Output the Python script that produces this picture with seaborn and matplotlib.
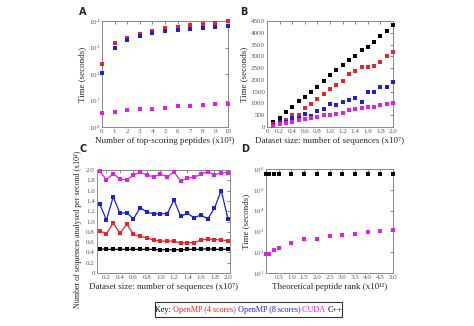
import numpy as np
import pandas as pd
import matplotlib
matplotlib.use("Agg")
import matplotlib.pyplot as plt
import seaborn as sns

# ---------------- data ----------------
# Panel A: time vs number of top-scoring peptides (log scale)
a_x = [0, 1, 2, 3, 4, 5, 6, 7, 8, 9, 10]
a_omp4 = [229, 1420, 2340, 3300, 4200, 5300, 6100, 7050, 7900, 8650, 9700]
a_omp8 = [110, 1000, 1900, 2700, 3400, 4200, 4700, 5100, 5600, 5900, 6600]
a_cuda = [3.5, 3.7, 4.2, 4.6, 4.8, 5.1, 6.1, 6.4, 6.8, 7.2, 7.6]

# Panel B: time vs dataset size
b_x = [0.1, 0.2, 0.3, 0.4, 0.5, 0.6, 0.7, 0.8, 0.9, 1.0,
       1.1, 1.2, 1.3, 1.4, 1.5, 1.6, 1.7, 1.8, 1.9, 2.0]
b_cpp = [200, 400, 640, 857, 1086, 1286, 1500, 1714, 1971, 2200,
         2430, 2643, 2857, 3014, 3257, 3414, 3600, 3843, 4071, 4314]
b_omp4 = [140, 210, 300, 500, 510, 800, 990, 1170, 1410, 1600,
          1790, 1960, 2230, 2390, 2540, 2540, 2590, 2770, 3000, 3190]
b_omp8 = [90, 200, 230, 370, 370, 570, 460, 700, 770, 960,
          940, 1060, 1140, 1230, 1070, 1470, 1490, 1710, 1690, 1930]
b_cuda = [40, 110, 170, 230, 290, 340, 390, 430, 490, 530,
          570, 610, 710, 760, 800, 830, 860, 940, 990, 1030]

# Panel C: throughput vs dataset size
c_x = b_x
c_cuda = [1.98, 1.81, 1.93, 1.82, 1.81, 1.90, 1.96, 1.90, 1.87, 1.92,
          1.87, 1.96, 1.79, 1.84, 1.86, 1.92, 1.97, 1.91, 1.94, 1.95]
c_omp8 = [1.34, 1.03, 1.48, 1.16, 1.17, 1.05, 1.27, 1.18, 1.15, 1.15,
          1.15, 1.42, 1.10, 1.16, 1.07, 1.13, 1.05, 1.26, 1.60, 1.05]
c_omp4 = [0.82, 0.76, 0.97, 0.77, 0.95, 0.75, 0.71, 0.68, 0.64, 0.62,
          0.62, 0.62, 0.58, 0.59, 0.59, 0.64, 0.66, 0.65, 0.64, 0.63]
c_cpp = [0.47, 0.46, 0.46, 0.46, 0.46, 0.46, 0.46, 0.46, 0.46, 0.45,
         0.45, 0.45, 0.45, 0.46, 0.46, 0.46, 0.47, 0.46, 0.46, 0.46]

# Panel D: time vs theoretical peptide rank (log scale)
d_x = [0.01, 0.1, 0.3, 0.5, 1.0, 1.5, 2.0, 2.5, 3.0, 3.5, 4.0, 4.5, 5.0]
d_cpp = [590000] * 13
d_cuda = [83, 85, 125, 168, 262, 410, 455, 570, 640, 770, 930, 1040, 1150]

RED, BLUE, MAG, BLK = "#e8232a", "#1f1fd6", "#e020e0", "#000000"

# ---------------- style ----------------
sns.set_style("white")
plt.rcParams["font.family"] = ["Liberation Serif", "DejaVu Serif"]
plt.rcParams["mathtext.fontset"] = "stix"
plt.rcParams.update({
    "axes.edgecolor": "#888888",
    "axes.linewidth": 0.7,
    "xtick.color": "#555555",
    "ytick.color": "#555555",
    "xtick.direction": "in",
    "ytick.direction": "in",
    "xtick.major.size": 2,
    "ytick.major.size": 2,
    "xtick.major.width": 0.5,
    "ytick.major.width": 0.5,
    "xtick.labelsize": 5,
    "ytick.labelsize": 5,
    "xtick.major.pad": 1.5,
    "ytick.major.pad": 1.5,
})

W, H = 474, 326
fig = plt.figure(figsize=(W / 100, H / 100), dpi=100)


def add_ax(x0, y0, x1, y1):
    return fig.add_axes([x0 / W, 1 - y1 / H, (x1 - x0) / W, (y1 - y0) / H])


def style(ax):
    ax.tick_params(top=True, right=True, which="both")
    ax.minorticks_off()
    for s in ax.spines.values():
        s.set_visible(True)


MS = 11

# ---------- A ----------
axA = add_ax(102, 21, 228, 127)
for y, c in [(a_omp4, RED), (a_omp8, BLUE), (a_cuda, MAG)]:
    sns.scatterplot(x=a_x, y=y, ax=axA, color=c, marker="s", s=MS,
                    linewidth=0, clip_on=False, zorder=3)
axA.set_yscale("log")
axA.set_ylim(1, 1e4)
axA.set_xlim(0, 10)
axA.set_xticks(range(0, 11))
axA.set_yticks([1, 10, 100, 1000, 10000])
style(axA)
axA.set_xlabel("Number of top-scoring peptides (x10³)", fontsize=6.5, labelpad=2)
axA.set_ylabel("Time (seconds)", fontsize=6.5, labelpad=2)

# ---------- B ----------
axB = add_ax(267, 21, 393, 127)
for y, c in [(b_cpp, BLK), (b_omp4, RED), (b_omp8, BLUE), (b_cuda, MAG)]:
    sns.scatterplot(x=b_x, y=y, ax=axB, color=c, marker="s", s=MS,
                    linewidth=0, clip_on=False, zorder=3)
axB.set_xlim(0, 2.0)
axB.set_ylim(0, 4500)
axB.set_xticks(np.round(np.arange(0, 2.01, 0.2), 1))
axB.set_xticklabels([f"{v:.1f}" if v else "0" for v in np.arange(0, 2.01, 0.2)])
axB.set_yticks(range(0, 4501, 500))
style(axB)
axB.set_xlabel("Dataset size: number of sequences (x10⁷)", fontsize=6.5, labelpad=2)
axB.set_ylabel("Time (seconds)", fontsize=6.5, labelpad=2)

# ---------- C ----------
axC = add_ax(97, 170, 230, 273)
for y, c in [(c_cuda, MAG), (c_omp8, BLUE), (c_omp4, RED), (c_cpp, BLK)]:
    sns.lineplot(x=c_x, y=y, ax=axC, color=c, marker="s", markersize=3.2,
                 markeredgewidth=0, linewidth=0.9, clip_on=False, zorder=3)
axC.set_xlim(0.06, 2.03)
axC.set_ylim(0, 2.0)
axC.set_xticks(np.round(np.arange(0.2, 2.01, 0.2), 1))
axC.set_xticklabels([f"{v:.1f}" for v in np.arange(0.2, 2.01, 0.2)])
axC.set_yticks(np.round(np.arange(0, 2.01, 0.2), 1))
axC.set_yticklabels(["0"] + [f"{v:.1f}" for v in np.arange(0.2, 2.01, 0.2)])
style(axC)
axC.set_xlabel("Dataset size: number of sequences (x10⁷)", fontsize=6.5, labelpad=2)
axC.set_ylabel("Number of sequences analysed per second (x10⁴)", fontsize=5.8,
               labelpad=2)
axC.yaxis.set_label_coords(-0.115, 0.42)

# ---------- D ----------
axD = add_ax(266, 169, 393, 273)
for y, c in [(d_cpp, BLK), (d_cuda, MAG)]:
    sns.scatterplot(x=d_x, y=y, ax=axD, color=c, marker="s", s=MS,
                    linewidth=0, clip_on=False, zorder=3)
axD.set_yscale("log")
axD.set_ylim(10, 1e6)
axD.set_xlim(0, 5.0)
axD.set_xticks(np.round(np.arange(0.5, 5.01, 0.5), 1))
axD.set_xticklabels([f"{v:.1f}" for v in np.arange(0.5, 5.01, 0.5)])
axD.set_yticks([10, 100, 1000, 1e4, 1e5, 1e6])
style(axD)
axD.set_xlabel("Theoretical peptide rank (x10¹¹)", fontsize=6.5, labelpad=2)
axD.set_ylabel("Time (seconds)", fontsize=6.5, labelpad=2)

# panel letters
for lbl, x, y in [("A", 83, 12), ("B", 244, 12), ("C", 83, 149), ("D", 245, 149)]:
    fig.text(x / W, 1 - y / H, lbl, fontsize=7, fontweight="bold",
             family=["DejaVu Sans"], ha="center", va="center")

# key box
kx0, kx1, ky0, ky1 = 155, 342, 302, 317
fig.patches.append(plt.Rectangle((kx0 / W, 1 - ky1 / H), (kx1 - kx0) / W,
                                 (ky1 - ky0) / H, transform=fig.transFigure,
                                 fill=False, edgecolor="#333333", linewidth=0.8))
parts = [("Key: ", BLK), ("OpenMP (4 scores) ", RED), ("OpenMP (8 scores) ", BLUE),
         ("CUDA ", MAG), ("C++", BLK)]
fig.canvas.draw()
renderer = fig.canvas.get_renderer()
texts = []
for s, c in parts:
    t = fig.text(0, 1 - 309.5 / H, s, color=c, fontsize=5.9, va="center", ha="left")
    texts.append(t)
widths = [t.get_window_extent(renderer).width for t in texts]
total = sum(widths)
xc = (kx0 + kx1) / 2 - total / 2
for t, w in zip(texts, widths):
    t.set_x(xc / W)
    xc += w

fig.savefig("out.png", dpi=100)
